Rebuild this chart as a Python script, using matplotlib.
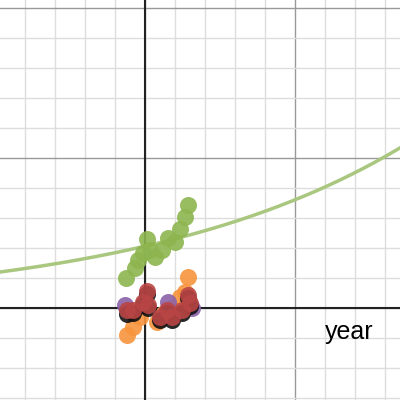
import numpy as np
import matplotlib.pyplot as plt

# scatter series (graph units, 1 grid square = 1)
green_x = [-0.63, -0.33, -0.23, -0.07, 0.07, 0.17, 0.33, 0.57, 0.77, 1.0, 1.17, 1.33, 1.43]
green_y = [1.0, 1.33, 1.6, 1.83, 2.3, 1.93, 1.7, 1.93, 2.33, 2.2, 2.63, 3.03, 3.43]
orange_x = [-0.6, -0.4, -0.17, 0.4, 0.6, 0.9, 1.17, 1.33, 1.43, 1.4]
orange_y = [-0.9, -0.63, -0.3, -0.47, -0.2, 0.0, 0.37, 0.53, 1.03, 0.2]
purple_x = [-0.67, 0.77, 1.57]
purple_y = [0.1, 0.2, 0.0]
black_x = [-0.6, -0.4, -0.07, 0.1, 0.5, 0.73, 0.9, 1.23, 1.43, 1.5, 0.07]
black_y = [-0.2, -0.17, 0.1, 0.0, -0.4, -0.17, -0.4, -0.17, 0.33, 0.07, 0.47]
red_x = [-0.6, -0.4, -0.07, 0.1, 0.5, 0.73, 0.9, 1.23, 1.43, 1.5, 0.07]
red_y = [-0.07, -0.07, 0.2, 0.1, -0.3, -0.07, -0.3, -0.07, 0.43, 0.17, 0.57]

# exponential fit curve y = a * exp(b x)
fit_a = 2.06
fit_b = 0.112

xmin, xmax = -145 / 30, 255 / 30
ymin, ymax = -92 / 30, 308 / 30

fig = plt.figure(figsize=(4, 4), dpi=100)
ax = fig.add_axes([0, 0, 1, 1])
ax.set_xlim(xmin, xmax)
ax.set_ylim(ymin, ymax)

for v in np.arange(-4, 9):
    ax.axvline(v, color='#999999' if v % 5 == 0 else '#dddddd', lw=1, zorder=0)
for v in np.arange(-3, 11):
    ax.axhline(v, color='#999999' if v % 5 == 0 else '#dddddd', lw=1, zorder=0)
ax.axhline(0, color='#222222', lw=1.5, zorder=1)
ax.axvline(0, color='#222222', lw=1.5, zorder=1)

xs = np.linspace(xmin, xmax, 200)
ax.plot(xs, fit_a * np.exp(fit_b * xs), color='#a9c77f', lw=2.5, zorder=2)

s = 150
ax.scatter(green_x, green_y, s=s, color='#8db54f', alpha=0.9, lw=0, zorder=3)
ax.scatter(orange_x, orange_y, s=s, color='#f7943d', alpha=0.9, lw=0, zorder=3)
ax.scatter(purple_x, purple_y, s=s, color='#8a62a8', alpha=0.9, lw=0, zorder=3)
ax.scatter(black_x, black_y, s=s, color='#111111', alpha=0.9, lw=0, zorder=4)
ax.scatter(red_x, red_y, s=s, color='#b94545', alpha=0.9, lw=0, zorder=5)

ax.text(6.8, -0.8, 'year', fontsize=18, ha='center', va='center',
        family='Liberation Sans')
ax.axis('off')
fig.savefig('out.png', dpi=100)
